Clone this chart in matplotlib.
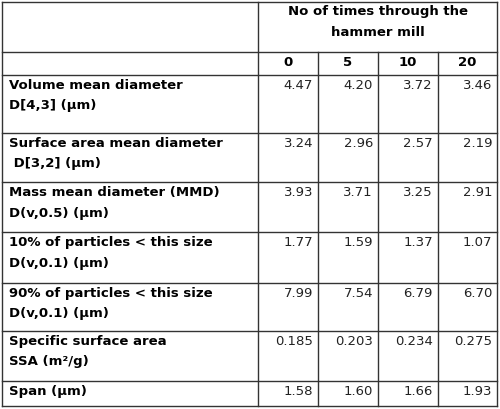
import matplotlib
matplotlib.use("Agg")
import matplotlib.pyplot as plt

header_top = "No of times through the\nhammer mill"
cols = ["0", "5", "10", "20"]
row_labels = [
    "Volume mean diameter\nD[4,3] (\u00b5m)",
    "Surface area mean diameter\n D[3,2] (\u00b5m)",
    "Mass mean diameter (MMD)\nD(v,0.5) (\u00b5m)",
    "10% of particles < this size\nD(v,0.1) (\u00b5m)",
    "90% of particles < this size\nD(v,0.1) (\u00b5m)",
    "Specific surface area\nSSA (m\u00b2/g)",
    "Span (\u00b5m)",
]
values = [
    ["4.47", "4.20", "3.72", "3.46"],
    ["3.24", "2.96", "2.57", "2.19"],
    ["3.93", "3.71", "3.25", "2.91"],
    ["1.77", "1.59", "1.37", "1.07"],
    ["7.99", "7.54", "6.79", "6.70"],
    ["0.185", "0.203", "0.234", "0.275"],
    ["1.58", "1.60", "1.66", "1.93"],
]

plt.rcParams['font.family'] = ['DejaVu Sans']
fig = plt.figure(figsize=(5, 4.09), dpi=100)
ax = fig.add_axes([0, 0, 1, 1])
ax.set_xlim(0, 500)
ax.set_ylim(409, 0)
ax.axis('off')

xs = [2, 258, 318, 378, 438, 497]
ys = [2, 52, 75, 133, 182, 232, 283, 331, 381, 406]
lw = 1.0
c = '#333333'
for y in ys:
    ax.plot([xs[0], xs[-1]], [y, y], color=c, lw=lw)
ax.plot([xs[0], xs[0]], [ys[0], ys[-1]], color=c, lw=lw)
ax.plot([xs[-1], xs[-1]], [ys[0], ys[-1]], color=c, lw=lw)
ax.plot([xs[1], xs[1]], [ys[0], ys[-1]], color=c, lw=lw)
for x in xs[2:5]:
    ax.plot([x, x], [ys[1], ys[-1]], color=c, lw=lw)

fs = 9.5
ls = 1.75
ax.text((xs[1] + xs[-1]) / 2, 5, header_top, ha='center', va='top', fontsize=fs,
        fontweight='bold', linespacing=ls)
for i, col in enumerate(cols):
    ax.text((xs[i + 1] + xs[i + 2]) / 2, 56, col, ha='center', va='top',
            fontsize=fs, fontweight='bold')
for r, (lab, vals) in enumerate(zip(row_labels, values)):
    top = ys[r + 2] + 4
    ax.text(9, top, lab, ha='left', va='top', fontsize=fs, fontweight='bold',
            linespacing=ls)
    for i, v in enumerate(vals):
        ax.text(xs[i + 2] - 5, top, v, ha='right', va='top', fontsize=fs,
                color='#222222')

fig.savefig('out.png', dpi=100)
